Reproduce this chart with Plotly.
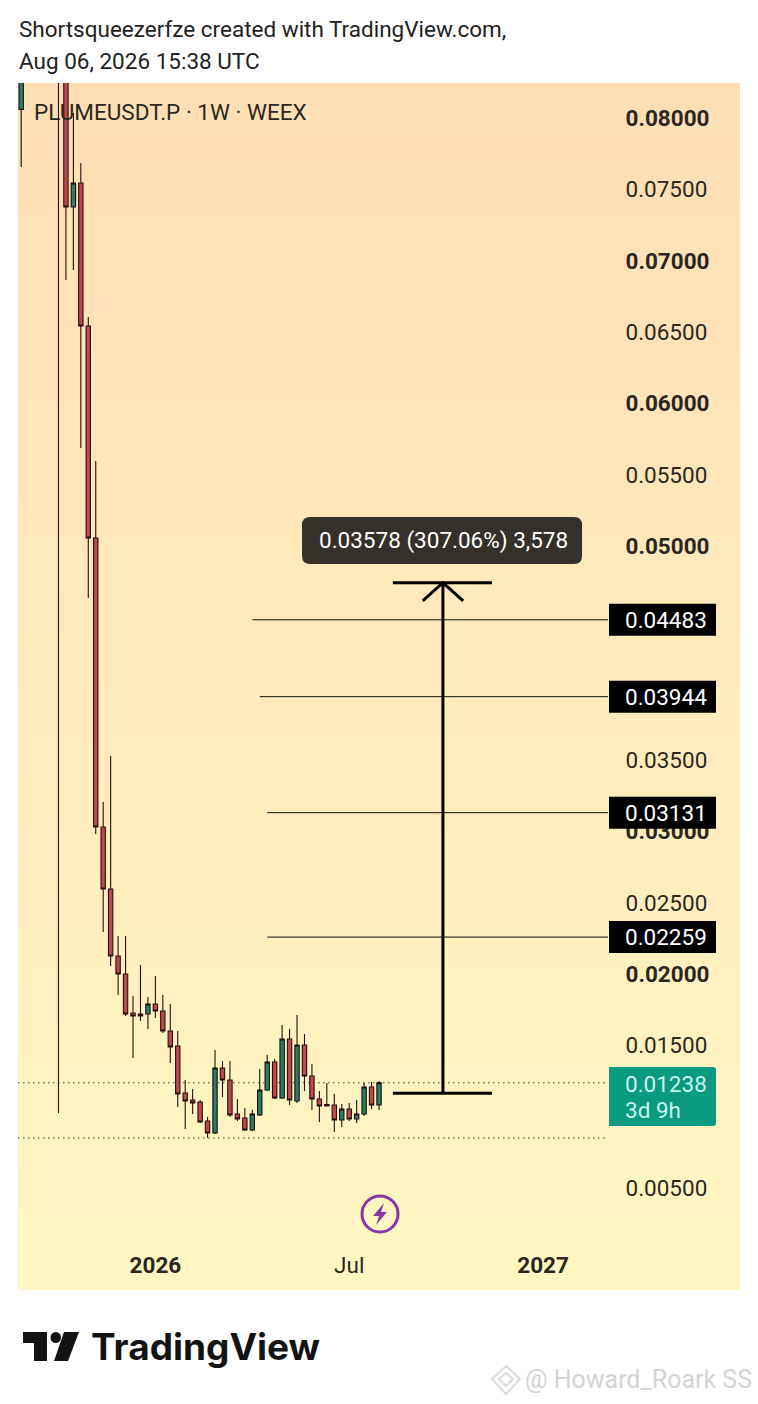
import plotly.graph_objects as go
import pandas as pd

# weekly candles (the first ones run above the visible range)
dates = pd.date_range("2025-09-01", periods=49, freq="7D")
opens = [0.0806, 0.098, 0.104, 0.110, 0.106, 0.108, 0.0885, 0.07376, 0.07544, 0.06542,
         0.05056, 0.03031, 0.02596, 0.02126, 0.02000, 0.01727, 0.01720, 0.01720, 0.01790, 0.01741,
         0.01601, 0.01496, 0.01166, 0.01117, 0.01103, 0.00970, 0.00886, 0.01341, 0.01257, 0.01019,
         0.00991, 0.00907, 0.01012, 0.01187, 0.01384, 0.01131, 0.01545, 0.01110, 0.01503, 0.01285,
         0.01124, 0.01085, 0.01082, 0.00977, 0.01054, 0.00984, 0.01019, 0.01208, 0.01082]
highs = [0.105, 0.112, 0.118, 0.128, 0.118, 0.116, 0.0920, 0.08035, 0.07685, 0.06605,
         0.05596, 0.03206, 0.03528, 0.02267, 0.02267, 0.01846, 0.02063, 0.01839, 0.01986, 0.01853,
         0.01790, 0.01601, 0.01257, 0.01194, 0.01117, 0.00998, 0.01468, 0.01391, 0.01391, 0.01124,
         0.01061, 0.01047, 0.01334, 0.01433, 0.01405, 0.01643, 0.01615, 0.01713, 0.01580, 0.01369,
         0.01180, 0.01236, 0.01159, 0.01089, 0.01096, 0.01117, 0.01236, 0.01243, 0.01250]
lows = [0.07657, 0.092, 0.098, 0.102, 0.098, 0.01026, 0.06865, 0.06935, 0.05687, 0.04636,
        0.02982, 0.02295, 0.02056, 0.01853, 0.01706, 0.01411, 0.01671, 0.01615, 0.01692, 0.01587,
        0.01376, 0.01068, 0.00914, 0.01019, 0.00956, 0.00851, 0.00879, 0.01138, 0.00998, 0.00970,
        0.00900, 0.00900, 0.01005, 0.01180, 0.01124, 0.01124, 0.01082, 0.01096, 0.01180, 0.01047,
        0.00963, 0.01075, 0.00893, 0.00928, 0.00970, 0.00956, 0.01005, 0.01054, 0.01047]
closes = [0.098, 0.104, 0.110, 0.106, 0.108, 0.0885, 0.07376, 0.07544, 0.06542, 0.05056,
          0.03031, 0.02596, 0.02126, 0.02000, 0.01720, 0.01706, 0.01706, 0.01790, 0.01741, 0.01601,
          0.01489, 0.01159, 0.01110, 0.01096, 0.00963, 0.00886, 0.01341, 0.01257, 0.01012, 0.00984,
          0.00907, 0.01019, 0.01187, 0.01384, 0.01131, 0.01545, 0.01117, 0.01503, 0.01285, 0.01124,
          0.01075, 0.01075, 0.00977, 0.01054, 0.00984, 0.01019, 0.01208, 0.01082, 0.01238]

# 0.01, 0.04 and 0.045 sit behind the price tags in the picture, so they are left out
price_ticks = [0.005, 0.015, 0.02, 0.025, 0.03, 0.035, 0.05, 0.055, 0.06,
               0.065, 0.07, 0.075, 0.08]
time_ticks = ["2026-01-05", "2026-07-06", "2027-01-04"]
time_labels = ["<b>2026</b>", "Jul", "<b>2027</b>"]

# hand drawn levels: price and the date where the line starts
levels = [0.04483, 0.03944, 0.03131, 0.02259]
level_starts = ["2026-04-06", "2026-04-13", "2026-04-20", "2026-04-20"]
last_price = 0.01238
low_price = 0.00851
range_start = 0.01165
range_end = 0.04743

x_range = ["2025-08-29", "2027-03-06"]
y_range = [0.00136, 0.08245]

FONT = "Roboto"
INK = "#2b2720"


# pixel position in the screenshot -> paper coordinates
def px(x):
    return (x - 18) / 722


def py(y):
    return (1290 - y) / 1207


def label(text, x, y, size=22.5, color=INK, family=FONT, anchor="left", yref="paper"):
    fig.add_annotation(text=text, xref="paper", yref=yref, x=px(x), y=py(y) if yref == "paper" else y,
                       xanchor=anchor, yanchor="middle", showarrow=False,
                       font=dict(family=family, size=size, color=color))


fig = go.Figure()

# background gradient as thin bands
n_bands = 90
top_c, bot_c = (255, 222, 180), (255, 247, 194)
for i in range(n_bands):
    t = i / (n_bands - 1)
    c = [round(a + (b - a) * t) for a, b in zip(top_c, bot_c)]
    fig.add_shape(type="rect", xref="paper", yref="paper", x0=0, x1=1,
                  y0=max(0, 1 - (i + 1.2) / n_bands), y1=1 - i / n_bands,
                  fillcolor=f"rgb({c[0]},{c[1]},{c[2]})", line_width=0, layer="below")

fig.add_trace(go.Candlestick(
    x=dates, open=opens, high=highs, low=lows, close=closes,
    increasing=dict(line=dict(color="#15110d", width=1.1), fillcolor="#2c7d69"),
    decreasing=dict(line=dict(color="#2a0f0f", width=1.1), fillcolor="#bd4a50"),
    whiskerwidth=0,
))

# dotted price lines
for p in [last_price, low_price]:
    fig.add_shape(type="line", xref="x", yref="y", x0=x_range[0], x1=x_range[1], y0=p, y1=p,
                  line=dict(color="#3a3a30", width=1, dash="1.5px,3.5px"), layer="below")

# horizontal levels and their black tags
for p, start in zip(levels, level_starts):
    fig.add_shape(type="line", xref="x", yref="y", x0=start, x1=x_range[1], y0=p, y1=p,
                  line=dict(color="#111111", width=1))
    fig.add_shape(type="rect", xref="paper", yref="y", x0=px(609), x1=px(716),
                  ysizemode="pixel", yanchor=p, y0=-16, y1=16,
                  fillcolor="#000000", line_width=0)
    label(f"{p:.5f}", 623, p, color="white", yref="y")

# price range tool
fig.add_shape(type="line", xref="x", yref="y", x0="2026-10-02", x1="2026-10-02", y0=range_start, y1=range_end,
              line=dict(color="black", width=3))
for p in [range_start, range_end]:
    fig.add_shape(type="line", xref="x", yref="y", x0="2026-08-16", x1="2026-11-17", y0=p, y1=p,
                  line=dict(color="black", width=3))
fig.add_shape(type="path", xref="x", yref="y",
              path=f"M 2026-09-13,0.04615 L 2026-10-02,{range_end} L 2026-10-21,0.04615",
              line=dict(color="black", width=3))

# tooltip of the range tool
l, r, t, b, q = px(302), px(582), py(517), py(564), 8 / 722
qy = 8 / 1207
fig.add_shape(type="path", xref="paper", yref="paper",
              path=(f"M {l + q},{t} L {r - q},{t} Q {r},{t} {r},{t - qy} L {r},{b + qy} Q {r},{b} {r - q},{b} "
                    f"L {l + q},{b} Q {l},{b} {l},{b + qy} L {l},{t - qy} Q {l},{t} {l + q},{t} Z"),
              fillcolor="#35302a", line_width=0)
label("0.03578 (307.06%) 3,578", 443, 540, color="white", anchor="center")

# last price tag
fig.add_shape(type="path", xref="paper", yref="paper",
              path=f"M {px(609)},{py(1067)} L {px(713)},{py(1067)} Q {px(716)},{py(1067)} {px(716)},{py(1070)} "
                   f"L {px(716)},{py(1123)} Q {px(716)},{py(1126)} {px(713)},{py(1126)} L {px(609)},{py(1126)} Z",
              fillcolor="#0b9a80", line_width=0)
label(f"{last_price:.5f}", 623, 1084, color="#c8f5ec")
label("3d 9h", 623, 1110, color="#c8f5ec")

# lightning badge
fig.add_shape(type="circle", xref="paper", yref="paper", x0=px(362), x1=px(398), y0=py(1232), y1=py(1196),
              line=dict(color="#8a35a8", width=3), fillcolor="rgba(0,0,0,0)")
bolt = [(384, 1203), (373, 1216), (379, 1216), (376, 1225), (387, 1212), (381, 1212)]
bolt_path = "M " + " L ".join(f"{px(a)},{py(c)}" for a, c in bolt) + " Z"
fig.add_shape(type="path", xref="paper", yref="paper", path=bolt_path, fillcolor="#8a35a8", line_width=0)

# header and pair name
label("Shortsqueezerfze created with TradingView.com,", 17, 29, color="#222222")
label("Aug 06, 2026 15:38 UTC", 17, 61, color="#222222")
label("PLUMEUSDT.P · 1W · WEEX", 32, 112)

# TradingView logo
logo_t = [(23, 1332), (47, 1332), (47, 1361), (34, 1361), (34, 1343), (23, 1343)]
logo_slash = [(64, 1332), (79, 1332), (68, 1361), (54, 1361)]
for pts in [logo_t, logo_slash]:
    fig.add_shape(type="path", xref="paper", yref="paper", fillcolor="#131313", line_width=0,
                  path="M " + " L ".join(f"{px(a)},{py(c)}" for a, c in pts) + " Z")
fig.add_shape(type="circle", xref="paper", yref="paper", x0=px(50.5), x1=px(61), y0=py(1343), y1=py(1332),
              fillcolor="#131313", line_width=0)
label("<b>TradingView</b>", 89, 1347, size=37, color="#131313", family="Inter")

# watermark
for pts in [[(506, 1366), (520, 1379), (506, 1394), (492, 1379)],
            [(506, 1373), (513, 1379), (506, 1386), (499, 1379)]]:
    fig.add_shape(type="path", xref="paper", yref="paper", line=dict(color="#dcdcdc", width=2),
                  path="M " + " L ".join(f"{px(a)},{py(c)}" for a, c in pts) + " Z")
label("@ Howard_Roark SS", 523, 1379, size=25, color="#d4d4d4")

fig.update_layout(
    width=758, height=1404,
    margin=dict(l=18, r=18, t=83, b=114),
    paper_bgcolor="white", plot_bgcolor="rgba(0,0,0,0)",
    showlegend=False, boxgap=0.17,
    font=dict(family=FONT, color=INK),
    xaxis=dict(domain=[0, 590 / 722], range=x_range, type="date", showgrid=False, zeroline=False, showline=False,
               rangeslider=dict(visible=False), tickvals=time_ticks, ticktext=time_labels,
               ticks="outside", ticklen=5, tickcolor="rgba(0,0,0,0)", tickfont=dict(family=FONT, size=22.5, color=INK)),
    yaxis=dict(domain=[50 / 1207, 1], range=y_range, side="right", showgrid=False, zeroline=False, showline=False,
               tickvals=price_ticks,
               ticktext=[f"<b>{p:.5f}</b>" if round(p * 1000) % 10 == 0 else f"{p:.5f}" for p in price_ticks],
               ticks="outside", ticklen=12, tickcolor="rgba(0,0,0,0)", tickfont=dict(family=FONT, size=22.5, color=INK)),
)

# page margin would shift everything by 8px
fig.write_html("out.html", post_script="document.body.style.margin='0';", config=dict(displayModeBar=False))
